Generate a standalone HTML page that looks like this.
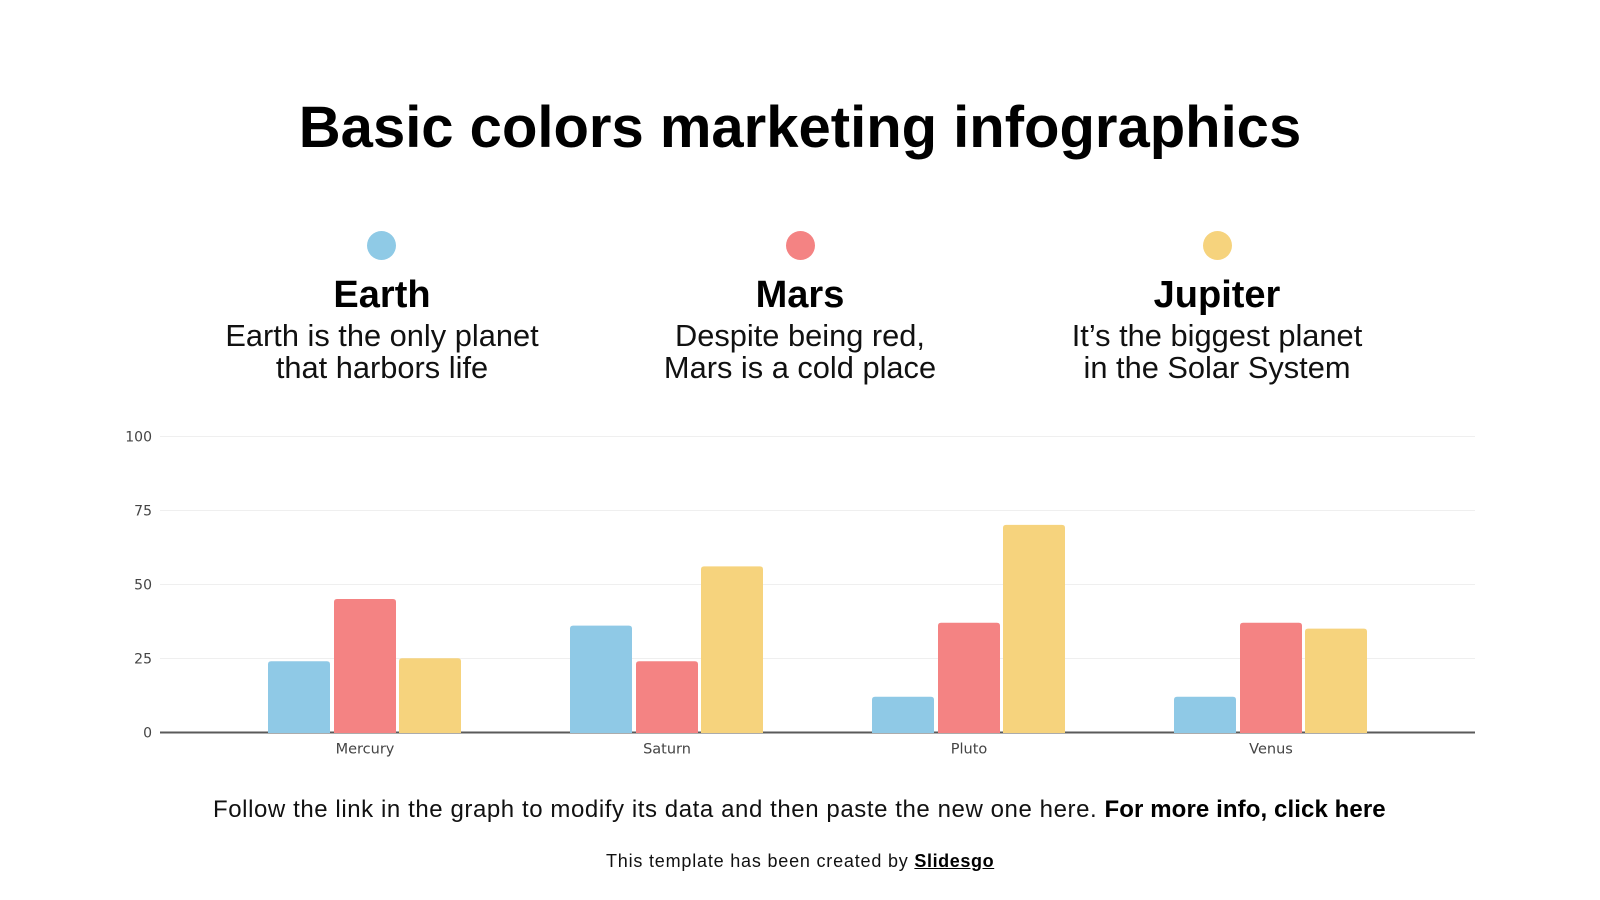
<!DOCTYPE html>
<html>
<head>
<meta charset="utf-8">
<style>
  html,body{margin:0;padding:0;background:#fff;}
  body{width:1600px;height:900px;position:relative;overflow:hidden;font-family:"Liberation Sans",Arial,sans-serif;color:#000;}
  .abs{position:absolute;white-space:nowrap;}
  .title{left:0;width:1600px;top:99px;text-align:center;font-size:58px;line-height:58px;font-weight:bold;color:#000;}
  .dot{position:absolute;width:29px;height:29px;border-radius:50%;top:231px;}
  .col{position:absolute;width:418px;text-align:center;}
  .h{top:276px;font-size:38px;line-height:38px;font-weight:bold;color:#000;}
  .d{top:320.2px;font-size:30.8px;line-height:32.2px;color:#111;}
  .foot1{top:798px;left:213px;font-size:24px;line-height:24px;letter-spacing:0.58px;color:#111;}
  .foot1 b{letter-spacing:0.1px;color:#000;}
  .foot2{top:852px;left:606px;font-size:18px;line-height:18px;letter-spacing:0.8px;color:#111;}
  .foot2 b{letter-spacing:0.6px;text-decoration:underline;color:#000;}
</style>
</head>
<body>
<div class="abs title">Basic colors marketing infographics</div>

<div class="dot" style="left:367px;background:#8fcae6;"></div>
<div class="dot" style="left:785.5px;background:#f48383;"></div>
<div class="dot" style="left:1202.5px;background:#f6d37d;"></div>

<div class="col h" style="left:173px;">Earth</div>
<div class="col h" style="left:591px;">Mars</div>
<div class="col h" style="left:1008px;">Jupiter</div>

<div class="col d" style="left:173px;">Earth is the only planet<br>that harbors life</div>
<div class="col d" style="left:591px;">Despite being red,<br>Mars is a cold place</div>
<div class="col d" style="left:1008px;">It’s the biggest planet<br>in the Solar System</div>

<svg class="abs" style="left:0;top:0;" width="1600" height="900" viewBox="0 0 1600 900" xmlns="http://www.w3.org/2000/svg">
  <g stroke="#efefef" stroke-width="1">
    <line x1="160" y1="436.5" x2="1475" y2="436.5"/>
    <line x1="160" y1="510.5" x2="1475" y2="510.5"/>
    <line x1="160" y1="584.5" x2="1475" y2="584.5"/>
    <line x1="160" y1="658.5" x2="1475" y2="658.5"/>
  </g>
  <line x1="160" y1="732.5" x2="1475" y2="732.5" stroke="#5a5a5a" stroke-width="2"/>
  <g font-family="'DejaVu Sans',Verdana,sans-serif" font-size="14" fill="#444" text-anchor="end">
    <text x="152" y="441.5">100</text>
    <text x="152" y="515.5">75</text>
    <text x="152" y="589.5">50</text>
    <text x="152" y="663.5">25</text>
    <text x="152" y="737.5">0</text>
  </g>
  <g font-family="'DejaVu Sans',Verdana,sans-serif" font-size="14.5" fill="#444" text-anchor="middle">
    <text x="365" y="753.5">Mercury</text>
    <text x="667" y="753.5">Saturn</text>
    <text x="969" y="753.5">Pluto</text>
    <text x="1271" y="753.5">Venus</text>
  </g>
  <g>
    <path fill="#8fc9e6" d="M268 733 V664.2 Q268 661.2 271 661.2 H327 Q330 661.2 330 664.2 V733 Z"/>
    <path fill="#f48383" d="M334 733 V602.0 Q334 599.0 337 599.0 H393 Q396 599.0 396 602.0 V733 Z"/>
    <path fill="#f6d37d" d="M399 733 V661.2 Q399 658.2 402 658.2 H458 Q461 658.2 461 661.2 V733 Z"/>
    <path fill="#8fc9e6" d="M570 733 V628.6 Q570 625.6 573 625.6 H629 Q632 625.6 632 628.6 V733 Z"/>
    <path fill="#f48383" d="M636 733 V664.2 Q636 661.2 639 661.2 H695 Q698 661.2 698 664.2 V733 Z"/>
    <path fill="#f6d37d" d="M701 733 V569.4 Q701 566.4 704 566.4 H760 Q763 566.4 763 569.4 V733 Z"/>
    <path fill="#8fc9e6" d="M872 733 V699.7 Q872 696.7 875 696.7 H931 Q934 696.7 934 699.7 V733 Z"/>
    <path fill="#f48383" d="M938 733 V625.7 Q938 622.7 941 622.7 H997 Q1000 622.7 1000 625.7 V733 Z"/>
    <path fill="#f6d37d" d="M1003 733 V527.9 Q1003 524.9 1006 524.9 H1062 Q1065 524.9 1065 527.9 V733 Z"/>
    <path fill="#8fc9e6" d="M1174 733 V699.7 Q1174 696.7 1177 696.7 H1233 Q1236 696.7 1236 699.7 V733 Z"/>
    <path fill="#f48383" d="M1240 733 V625.7 Q1240 622.7 1243 622.7 H1299 Q1302 622.7 1302 625.7 V733 Z"/>
    <path fill="#f6d37d" d="M1305 733 V631.6 Q1305 628.6 1308 628.6 H1364 Q1367 628.6 1367 631.6 V733 Z"/>
  </g>
</svg>

<div class="abs foot1">Follow the link in the graph to modify its data and then paste the new one here. <b>For more info, click here</b></div>
<div class="abs foot2">This template has been created by <b>Slidesgo</b></div>
</body>
</html>
